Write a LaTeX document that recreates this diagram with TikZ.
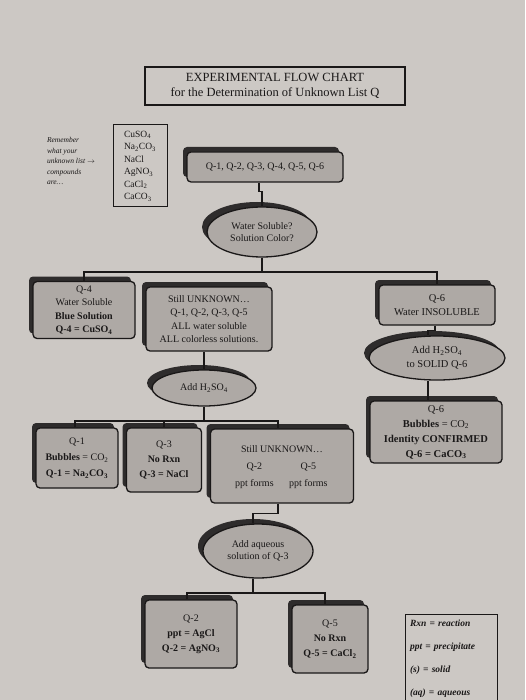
\documentclass[tikz,border=0pt]{standalone}
\usepackage{fontspec}
\setmainfont{Liberation Serif}
\usetikzlibrary{shapes.geometric,shadows}
\definecolor{paper}{RGB}{204,200,196}
\definecolor{boxgray}{RGB}{174,169,165}
\definecolor{shade}{RGB}{46,44,44}
\definecolor{ink}{RGB}{26,24,24}
\begin{document}
\begin{tikzpicture}[x=1pt, y=-1pt, color=ink, line width=1.3pt,
  qbox/.style={draw, fill=boxgray, rounded corners=4pt, align=center, inner sep=2pt,
    font=\fontsize{10}{13.5}\selectfont,
    drop shadow={shadow xshift=-4pt, shadow yshift=5pt, opacity=1, fill=shade}},
  qoval/.style={ellipse, draw, fill=boxgray, align=center, inner sep=0pt,
    font=\fontsize{10}{12.5}\selectfont,
    drop shadow={shadow xshift=-5pt, shadow yshift=5pt, opacity=1, fill=shade}},
  link/.style={line width=1.5pt}]
\clip(0,0)rectangle(525,700);
\fill[paper](0,0)rectangle(525,700);
%
\node[draw, line width=1.5pt, minimum width=260pt, minimum height=38pt, align=center, font=\fontsize{12.5}{15}\selectfont](T)at(275,86){EXPERIMENTAL FLOW CHART\\for the Determination of Unknown List Q};
\node[align=left, font=\fontsize{7.5}{10.5}\selectfont\itshape](R)at(71,161){Remember\\what your\\unknown list $\rightarrow$\\compounds\\are\ldots};
\node[draw, line width=1pt, minimum width=54pt, minimum height=82pt, align=left, font=\fontsize{9.5}{12.5}\selectfont](L)at(140,166){CuSO\textsubscript{4}\\Na\textsubscript{2}CO\textsubscript{3}\\NaCl\\AgNO\textsubscript{3}\\CaCl\textsubscript{2}\\CaCO\textsubscript{3}};
\node[qbox, minimum width=156pt, minimum height=30pt](QL)at(265,167){Q-1, Q-2, Q-3, Q-4, Q-5, Q-6};
\node[qoval, minimum width=110pt, minimum height=50pt](W)at(262,232){Water Soluble?\\Solution Color?};
%
\node[qbox, minimum width=102pt, minimum height=57pt](Q4)at(84,310){Q-4\\Water Soluble\\\textbf{Blue Solution}\\\textbf{Q-4 = CuSO\textsubscript{4}}};
\node[qbox, minimum width=126pt, minimum height=64pt](S1)at(209,319){Still UNKNOWN\ldots\\Q-1, Q-2, Q-3, Q-5\\ALL water soluble\\ALL colorless solutions.};
\node[qbox, minimum width=116pt, minimum height=40pt, font=\fontsize{10.5}{14}\selectfont](Q6)at(437,305){Q-6\\Water INSOLUBLE};
\node[qoval, minimum width=136pt, minimum height=44pt, font=\fontsize{10.5}{14}\selectfont](A1)at(437,358){Add H\textsubscript{2}SO\textsubscript{4}\\to SOLID Q-6};
\node[qbox, minimum width=132pt, minimum height=62pt, font=\fontsize{10.5}{15}\selectfont](Q6C)at(436,432){Q-6\\\textbf{Bubbles} = CO\textsubscript{2}\\\textbf{Identity CONFIRMED}\\\textbf{Q-6 = CaCO\textsubscript{3}}};
\node[qoval, minimum width=104pt, minimum height=36pt](A2)at(204,388){Add H\textsubscript{2}SO\textsubscript{4}};
%
\node[qbox, minimum width=82pt, minimum height=60pt, font=\fontsize{10}{16}\selectfont](Q1)at(77,458){Q-1\\\textbf{Bubbles} = CO\textsubscript{2}\\\textbf{Q-1 = Na\textsubscript{2}CO\textsubscript{3}}};
\node[qbox, minimum width=75pt, minimum height=64pt, font=\fontsize{10}{15}\selectfont](Q3)at(164,460){Q-3\\\textbf{No Rxn}\\\textbf{Q-3 = NaCl}};
\node[qbox, minimum width=143pt, minimum height=74pt](S2)at(282,466){\renewcommand{\arraystretch}{1.25}\begin{tabular}{@{}c@{\hspace{14pt}}c@{}}\multicolumn{2}{c}{Still UNKNOWN\ldots}\\Q-2&Q-5\\ppt forms&ppt forms\end{tabular}};
\node[qoval, minimum width=110pt, minimum height=54pt, font=\fontsize{10}{11.5}\selectfont](A3)at(258,551){Add aqueous\\solution of Q-3};
\node[qbox, minimum width=92pt, minimum height=68pt, font=\fontsize{10}{15}\selectfont](Q2)at(191,634){Q-2\\\textbf{ppt = AgCl}\\\textbf{Q-2 = AgNO\textsubscript{3}}};
\node[qbox, minimum width=76pt, minimum height=68pt, font=\fontsize{10}{15}\selectfont](Q5)at(330,639){Q-5\\\textbf{No Rxn}\\\textbf{Q-5 = CaCl\textsubscript{2}}};
\node[draw, line width=1pt, minimum width=92pt, minimum height=90pt, align=left, text width=82pt, font=\fontsize{9.5}{23}\selectfont\bfseries\itshape](G)at(451,659){Rxn = reaction\\ppt = precipitate\\(s) = solid\\(aq) = aqueous};
%
\coordinate(J1)at(262,272);
\coordinate(J2)at(204,421);
\coordinate(J3)at(253,593);
\draw[link]([xshift=-6pt]QL.south)--++(0,9)-|(W.north);
\draw[link](W.south)--(J1);
\draw[link](Q4.north)|-(J1)-|(Q6.north);
\draw[link]([xshift=-2pt]Q6.south)--++(0,5)-|([xshift=-9pt]A1.north);
\draw[link]([xshift=-9pt]A1.south)--([xshift=-9pt]A1.south|-Q6C.north);
\draw[link](S1.south-|A2.north)--(A2.north);
\draw[link](A2.south)--(J2);
\draw[link]([xshift=-2pt]Q1.north)|-(J2)-|([xshift=-4pt]S2.north);
\draw[link](Q3.north)--(Q3.north|-J2);
\draw[link]([xshift=-4pt]S2.south)--++(0,10)-|([xshift=-5pt]A3.north);
\draw[link]([xshift=-5pt]A3.south)--(J3);
\draw[link]([xshift=-4pt]Q2.north)|-(J3)-|([xshift=-5pt]Q5.north);
\end{tikzpicture}
\end{document}
